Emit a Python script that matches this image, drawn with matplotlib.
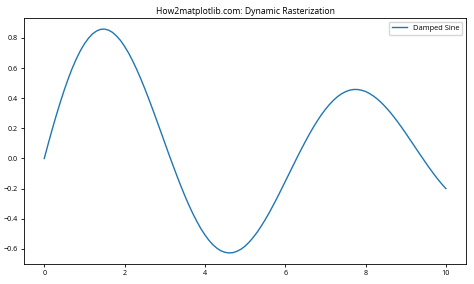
import numpy as np
import matplotlib.pyplot as plt

plt.rcParams['font.family'] = ['Open Sans', 'DejaVu Sans']

# values, step 0.1
x = np.linspace(0, 10, 101)
y = [0.000, 0.099, 0.195, 0.287, 0.374, 0.456, 0.532, 0.601, 0.662, 0.716,
     0.761, 0.798, 0.827, 0.846, 0.857, 0.859, 0.852, 0.837, 0.813, 0.783,
     0.744, 0.700, 0.649, 0.592, 0.531, 0.466, 0.397, 0.326, 0.253, 0.179,
     0.105, 0.030, -0.042, -0.113, -0.182, -0.247, -0.309, -0.366, -0.418, -0.466,
     -0.507, -0.543, -0.573, -0.596, -0.613, -0.623, -0.627, -0.625, -0.616, -0.602,
     -0.582, -0.556, -0.525, -0.490, -0.450, -0.407, -0.361, -0.311, -0.260, -0.207,
     -0.153, -0.099, -0.045, 0.009, 0.061, 0.112, 0.161, 0.207, 0.250, 0.290,
     0.326, 0.358, 0.386, 0.410, 0.429, 0.443, 0.453, 0.458, 0.458, 0.453,
     0.445, 0.431, 0.414, 0.393, 0.369, 0.341, 0.311, 0.278, 0.243, 0.206,
     0.168, 0.128, 0.089, 0.049, 0.010, -0.029, -0.067, -0.103, -0.138, -0.170,
     -0.200]


def main():
    fig = plt.figure(figsize=(4.74, 2.84), dpi=100)
    ax = fig.add_axes([0.051, 0.070, 0.932, 0.867])
    ax.plot(x, y, color='#1f77b4', lw=1.0, label='Damped Sine')
    ax.set_title('How2matplotlib.com: Dynamic Rasterization', fontsize=6.2, pad=3)
    ax.tick_params(labelsize=5.2, length=2.5, width=0.6, pad=2)
    for s in ax.spines.values():
        s.set_linewidth(0.6)
    ax.legend(fontsize=5.4, loc='upper right')
    fig.savefig('out.png', dpi=100)


if __name__ == "__main__":
    main()
